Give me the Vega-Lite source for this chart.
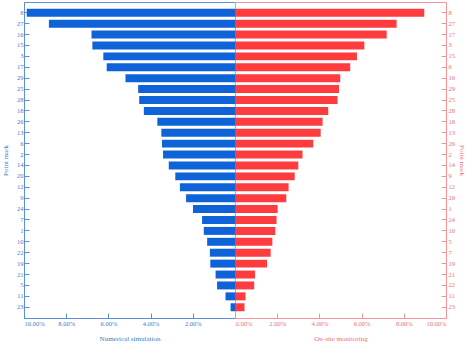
{
  "$schema": "https://vega.github.io/schema/vega-lite/v6.json",
  "padding": {"left": 1, "top": 1, "right": 0, "bottom": 0},
  "background": "white",
  "spacing": 0,
  "bounds": "flush",
  "config": {
    "font": "Liberation Serif",
    "axis": {"labelFont": "Liberation Serif", "titleFont": "Liberation Serif", "labelFontSize": 6.5, "titleFontSize": 7, "titleFontWeight": "normal", "grid": false, "tickSize": -5}
  },
  "data": {"values": [
    {"point": "8", "sim": 0.0987, "mon": 0.0897},
    {"point": "27", "sim": 0.0882, "mon": 0.0766},
    {"point": "16", "sim": 0.0680, "mon": 0.0499},
    {"point": "15", "sim": 0.0676, "mon": 0.0578},
    {"point": "3", "sim": 0.0624, "mon": 0.0613},
    {"point": "17", "sim": 0.0608, "mon": 0.0719},
    {"point": "29", "sim": 0.0519, "mon": 0.0493},
    {"point": "25", "sim": 0.0459, "mon": 0.0486},
    {"point": "28", "sim": 0.0454, "mon": 0.0442},
    {"point": "18", "sim": 0.0432, "mon": 0.0415},
    {"point": "26", "sim": 0.0368, "mon": 0.0371},
    {"point": "13", "sim": 0.0349, "mon": 0.0406},
    {"point": "6", "sim": 0.0346, "mon": 0.0546},
    {"point": "2", "sim": 0.0341, "mon": 0.0320},
    {"point": "14", "sim": 0.0314, "mon": 0.0300},
    {"point": "20", "sim": 0.0283, "mon": 0.0243},
    {"point": "12", "sim": 0.0261, "mon": 0.0254},
    {"point": "9", "sim": 0.0232, "mon": 0.0283},
    {"point": "24", "sim": 0.0199, "mon": 0.0197},
    {"point": "7", "sim": 0.0156, "mon": 0.0169},
    {"point": "1", "sim": 0.0148, "mon": 0.0202},
    {"point": "10", "sim": 0.0132, "mon": 0.0191},
    {"point": "22", "sim": 0.0119, "mon": 0.0091},
    {"point": "19", "sim": 0.0117, "mon": 0.0152},
    {"point": "21", "sim": 0.0092, "mon": 0.0095},
    {"point": "5", "sim": 0.0085, "mon": 0.0177},
    {"point": "11", "sim": 0.0045, "mon": 0.0050},
    {"point": "23", "sim": 0.0021, "mon": 0.0045}
  ]},
  "hconcat": [
    {
      "width": 211,
      "height": 316,
      "view": {"stroke": "#5b8fd3", "strokeWidth": 1},
      "mark": {"type": "bar", "color": "#0f63d8"},
      "encoding": {
        "y": {
          "field": "point", "type": "nominal", "sort": "-x",
          "scale": {"paddingInner": 0.27, "paddingOuter": 0.62},
          "axis": {"title": "Point mark", "orient": "left", "domainColor": "#5b8fd3", "tickColor": "#5b8fd3", "labelColor": "#3d7dd0", "titleColor": "#3d7dd0", "labelPadding": 6, "titlePadding": 8}
        },
        "x": {
          "field": "sim", "type": "quantitative",
          "scale": {"domain": [0, 0.1], "reverse": true, "nice": false},
          "axis": {"title": "Numerical simulation", "format": ".2%", "values": [0.02, 0.04, 0.06, 0.08, 0.1], "domainColor": "#5b8fd3", "tickColor": "#5b8fd3", "labelColor": "#3d7dd0", "titleColor": "#3d7dd0", "labelPadding": 7, "titlePadding": 8}
        }
      }
    },
    {
      "width": 211,
      "height": 316,
      "view": {"stroke": "#f3939a", "strokeWidth": 1},
      "mark": {"type": "bar", "color": "#fd3c40"},
      "encoding": {
        "y": {
          "field": "point", "type": "nominal", "sort": "-x",
          "scale": {"paddingInner": 0.27, "paddingOuter": 0.62},
          "axis": {"title": "Point mark", "orient": "right", "domainColor": "#f3939a", "tickColor": "#f3939a", "labelColor": "#ec6f78", "titleColor": "#ec6f78", "labelPadding": 7, "titlePadding": 4}
        },
        "x": {
          "field": "mon", "type": "quantitative",
          "scale": {"domain": [0, 0.1], "nice": false},
          "axis": {"title": "On-site monitoring", "format": ".2%", "values": [0, 0.02, 0.04, 0.06, 0.08, 0.1], "domainColor": "#f3939a", "tickColor": "#f3939a", "labelColor": "#ec6f78", "titleColor": "#ec6f78", "labelPadding": 7, "titlePadding": 8}
        }
      }
    }
  ]
}
